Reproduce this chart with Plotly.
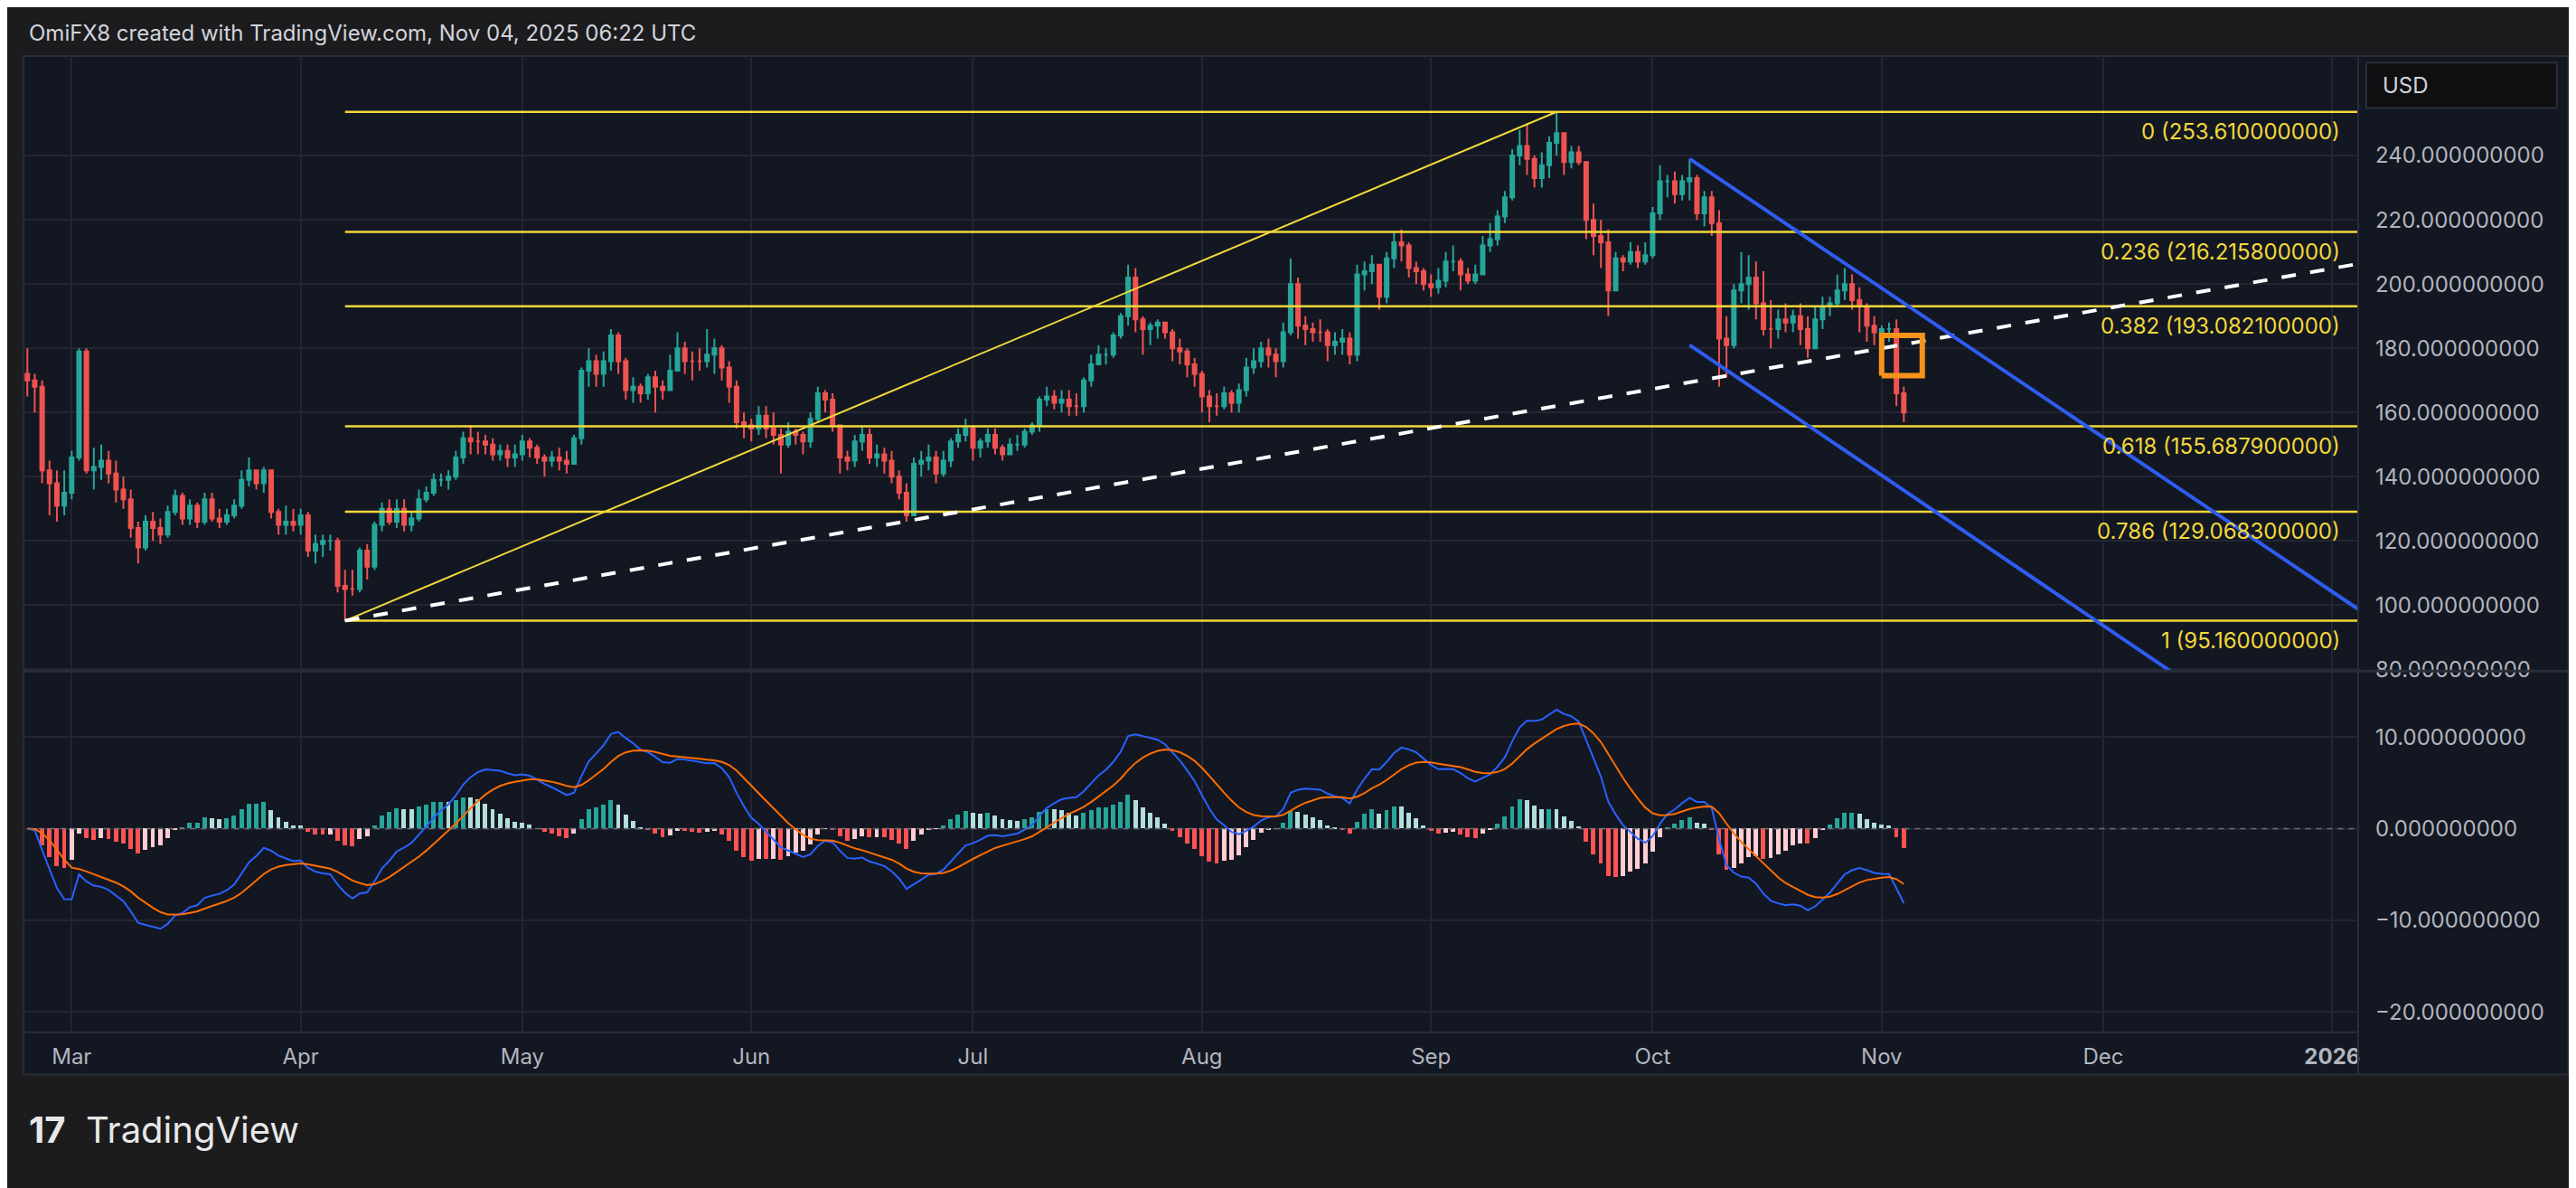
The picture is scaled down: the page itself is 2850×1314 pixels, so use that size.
import pandas as pd
import numpy as np
import plotly.graph_objects as go

# ---------------- DATA (daily, 2025-02-23 .. 2025-11-04) ----------------
close_feb = [170,168,142,138,131,135]
high_feb  = [180,172,170,145,142,142]
low_feb   = [165,160,138,128,126,128]
close_mar = [146,179,142,143,145,141,136,133,124,118,126,124,122,129,134,127,131,126,133,127,126,128,131,139,142,138,142,129,125,126,125]
high_mar  = [148,180,180,149,150,148,145,140,136,126,128,129,127,131,136,135,133,132,135,135,130,130,133,142,146,142,143,142,130,131,130]
low_mar   = [133,145,141,136,139,138,132,130,121,113,117,120,119,121,128,125,125,124,125,126,124,125,127,130,137,136,135,127,122,122,123]
close_apr = [128,117,119,120,120,106,105,105,117,112,125,130,126,130,125,127,133,135,139,139,140,146,152,151,151,150,147,148,146,147]
high_apr  = [130,129,122,122,122,121,111,111,118,119,126,132,133,133,133,129,136,137,141,141,142,148,154,156,154,153,152,150,150,150]
low_apr   = [122,115,113,115,117,104,95.16,103,104,108,111,123,125,124,123,123,126,132,134,137,136,139,144,147,147,147,145,145,143,143]
close_may = [151,149,146,145,146,145,144,152,173,176,172,176,184,176,167,168,166,171,168,167,173,180,176,176,176,178,180,174,168,157,156]
high_may  = [153,152,150,147,148,149,148,153,174,180,178,179,186,185,177,171,169,172,173,170,178,185,182,179,180,186,183,181,176,170,160]
low_may   = [145,146,144,140,143,142,141,144,150,168,168,168,173,172,164,163,163,164,160,164,167,173,172,170,173,174,172,170,163,155,152]
close_jun = [155,159,155,153,150,154,153,151,158,166,164,156,146,145,151,153,146,147,145,140,135,128,144,145,146,141,145,151,153,155]
high_jun  = [158,162,162,160,155,157,155,154,160,168,167,166,156,148,153,156,155,150,149,148,142,138,146,148,150,148,148,152,155,158]
low_jun   = [151,153,152,150,141,149,150,147,149,157,160,154,141,142,143,148,144,143,141,138,133,126,128,140,142,138,140,143,149,151]
close_jul = [149,151,153,149,147,150,150,154,156,164,165,163,164,162,162,170,175,178,178,184,190,202,189,186,187,188,185,180,179,175,172]
high_jul  = [156,152,155,155,150,152,153,155,157,165,168,167,167,167,166,171,178,181,180,185,191,206,205,190,188,189,188,186,183,180,177]
low_jul   = [145,146,149,147,145,147,148,149,153,154,162,161,160,159,159,160,168,175,175,177,183,187,185,178,181,183,183,176,175,171,168]
close_aug = [165,162,162,166,163,167,174,176,180,178,176,185,200,187,186,185,185,181,182,183,178,203,204,206,196,208,213,212,205,204,200]
high_aug  = [173,167,166,168,167,169,177,180,182,183,180,188,208,202,190,188,189,186,185,186,185,206,207,209,205,210,216,217,213,207,205]
low_aug   = [160,157,159,161,160,160,165,172,174,174,171,174,184,183,181,182,182,176,178,178,175,176,198,200,192,194,205,207,202,200,198]
close_sep = [199,201,207,207,203,201,203,212,214,221,227,240,243,239,233,237,244,247,238,241,238,220,215,213,198,208,207,210,207,209]
high_sep  = [203,205,210,212,208,205,206,215,219,223,229,242,248,250,240,241,246,253.61,245,243,243,238,225,220,217,210,209,213,212,213]
low_sep   = [196,197,199,204,198,200,200,203,210,212,219,226,237,234,230,230,233,240,234,236,237,214,209,205,190,198,204,206,205,206]
close_oct = [222,232,232,228,232,233,222,227,219,183,181,198,200,202,194,186,186,189,188,190,186,180,189,193,194,198,200,195,193,187,185]
high_oct  = [224,237,234,235,234,239,234,229,229,223,190,200,210,209,207,204,195,192,194,192,194,190,193,196,196,203,205,203,199,194,190]
low_oct   = [208,220,227,225,226,226,220,218,215,168,171,180,194,192,189,184,180,183,185,185,181,177,180,186,190,193,195,192,185,182,181]
close_nov = [186,186,166,160]
high_nov  = [187,188,189,168]
low_nov   = [183,182,162,157]

fib_ratios = ["0", "0.236", "0.382", "0.618", "0.786", "1"]
fib_prices = [253.61, 216.2158, 193.0821, 155.6879, 129.0683, 95.16]
fib_start = "2025-04-07"

swing_dates = ["2025-04-07", "2025-09-18"]
swing_prices = [95.16, 253.61]
trend_dates = ["2025-04-07", "2026-01-05"]
trend_prices = [95.16, 206.5]
chan_up_dates = ["2025-10-06", "2026-01-05"]
chan_up_prices = [239.0, 98.0]
chan_lo_dates = ["2025-10-06", "2025-12-20"]
chan_lo_prices = [181.0, 64.0]
box_dates = ["2025-11-01", "2025-11-06 12:00"]
box_prices = [171.5, 184.0]

month_ticks = ["2025-03-01","2025-04-01","2025-05-01","2025-06-01","2025-07-01","2025-08-01",
               "2025-09-01","2025-10-01","2025-11-01","2025-12-01","2026-01-01"]
month_labels = ["Mar","Apr","May","Jun","Jul","Aug","Sep","Oct","Nov","Dec","<b>2026</b>"]
price_ticks = [80,100,120,140,160,180,200,220,240]
macd_ticks = [10,0,-10,-20]

# ---------------- build ----------------
closes = close_feb+close_mar+close_apr+close_may+close_jun+close_jul+close_aug+close_sep+close_oct+close_nov
highs = high_feb+high_mar+high_apr+high_may+high_jun+high_jul+high_aug+high_sep+high_oct+high_nov
lows = low_feb+low_mar+low_apr+low_may+low_jun+low_jul+low_aug+low_sep+low_oct+low_nov
dates = pd.date_range("2025-02-23", "2025-11-04", freq="D")
assert len(closes) == len(dates) == len(highs) == len(lows), (len(closes), len(dates), len(highs), len(lows))
closes = np.array(closes, float)
opens = np.concatenate([[172.0], closes[:-1]])
highs = np.maximum.reduce([np.array(highs, float), opens, closes])
lows = np.minimum.reduce([np.array(lows, float), opens, closes])

s = pd.Series(closes)
macd = s.ewm(span=12, adjust=False).mean() - s.ewm(span=26, adjust=False).mean()
sig = macd.ewm(span=9, adjust=False).mean()
hist = macd - sig
hcol = []
prev = 0
for h in hist:
    if h >= 0:
        hcol.append("#26a69a" if h >= prev else "#b2dfdb")
    else:
        hcol.append("#ff5252" if h <= prev else "#ffcdd2")
    prev = h

W, H = 1568.0, 723.0
def px(x): return x / W
def py(y): return 1 - y / H
S = 2850 / 1568

BG = "#131722"
GRID = "#232632"
TXT = "#b2b5be"
YEL = "#f2d83a"

fig = go.Figure()
fig.add_trace(go.Candlestick(x=dates, open=opens, high=highs, low=lows, close=closes,
    increasing=dict(line=dict(color="#26a69a", width=2), fillcolor="#26a69a"),
    decreasing=dict(line=dict(color="#ef5350", width=2), fillcolor="#ef5350"),
    whiskerwidth=0, xaxis="x", yaxis="y", showlegend=False, hoverinfo="skip"))

for fp in fib_prices:
    fig.add_trace(go.Scatter(x=[fib_start, "2026-01-10"], y=[fp, fp], mode="lines",
        line=dict(color=YEL, width=2.5), xaxis="x", yaxis="y", showlegend=False, hoverinfo="skip"))
fig.add_trace(go.Scatter(x=swing_dates, y=swing_prices, mode="lines", line=dict(color=YEL, width=2),
    xaxis="x", yaxis="y", showlegend=False))
fig.add_trace(go.Scatter(x=trend_dates, y=trend_prices, mode="lines",
    line=dict(color="#ffffff", width=4, dash="16px,16px"), xaxis="x", yaxis="y", showlegend=False))
fig.add_trace(go.Scatter(x=chan_up_dates, y=chan_up_prices, mode="lines", line=dict(color="#2f5cf0", width=4),
    xaxis="x", yaxis="y", showlegend=False))
fig.add_trace(go.Scatter(x=chan_lo_dates, y=chan_lo_prices, mode="lines", line=dict(color="#2f5cf0", width=4),
    xaxis="x", yaxis="y", showlegend=False))
fig.add_trace(go.Scatter(x=[box_dates[0], box_dates[1], box_dates[1], box_dates[0], box_dates[0]],
    y=[box_prices[0], box_prices[0], box_prices[1], box_prices[1], box_prices[0]], mode="lines",
    line=dict(color="#f7931a", width=6), xaxis="x", yaxis="y", showlegend=False))

fig.add_trace(go.Bar(x=dates, y=hist, marker=dict(color=hcol, line=dict(width=0)), width=86400000*0.6,
    xaxis="x2", yaxis="y2", showlegend=False))
fig.add_trace(go.Scatter(x=dates, y=macd, mode="lines", line=dict(color="#2962ff", width=2),
    xaxis="x2", yaxis="y2", showlegend=False))
fig.add_trace(go.Scatter(x=dates, y=sig, mode="lines", line=dict(color="#ff6d00", width=2),
    xaxis="x2", yaxis="y2", showlegend=False))
fig.add_trace(go.Scatter(x=["2025-02-01", "2026-01-10"], y=[0, 0], mode="lines",
    line=dict(color="#6a6d78", width=1.5, dash="6px,6px"), xaxis="x2", yaxis="y2", showlegend=False))

xr = ["2025-02-22 12:00", "2026-01-04 12:00"]
xdom = [px(10), px(1432)]
fig.update_layout(
    width=2850, height=1314, margin=dict(l=0, r=0, t=0, b=0),
    paper_bgcolor="#1c1c1e", plot_bgcolor=BG, bargap=0,
    font=dict(family="Inter, Roboto, sans-serif", color=TXT, size=24),
    xaxis=dict(domain=xdom, anchor="y", range=xr, showticklabels=False, tickvals=month_ticks,
               showgrid=True, gridcolor=GRID, gridwidth=2, zeroline=False, rangeslider=dict(visible=False), fixedrange=True),
    xaxis2=dict(domain=xdom, anchor="y2", range=xr, tickvals=month_ticks, ticktext=month_labels,
                showgrid=True, gridcolor=GRID, gridwidth=2, zeroline=False, ticks="", ticklabelstandoff=10,
                tickfont=dict(size=24, color=TXT)),
    yaxis=dict(domain=[py(408), py(30)], anchor="x", side="right", range=[79.5, 271], tickvals=price_ticks,
               ticktext=[f"{v:.9f}" for v in price_ticks], showgrid=True, gridcolor=GRID, gridwidth=2,
               zeroline=False, ticklabelstandoff=18, tickfont=dict(size=24, color=TXT)),
    yaxis2=dict(domain=[py(630), py(408)], anchor="x2", side="right", range=[-22.2, 17.2], tickvals=macd_ticks,
                ticktext=[("−" if v < 0 else "") + f"{abs(v):.9f}" for v in macd_ticks], showgrid=True,
                gridcolor=GRID, gridwidth=2, zeroline=False, ticklabelstandoff=18, tickfont=dict(size=24, color=TXT)),
)

shapes = [
    dict(type="rect", xref="paper", yref="paper", x0=px(10), x1=px(1560), y0=py(656), y1=py(30),
         fillcolor=BG, line=dict(color="#2a2e39", width=2), layer="below"),
    dict(type="line", xref="paper", yref="paper", x0=px(10), x1=px(1560), y0=py(408), y1=py(408),
         line=dict(color="#2a2e39", width=3)),
    dict(type="line", xref="paper", yref="paper", x0=px(1432), x1=px(1432), y0=py(656), y1=py(30),
         line=dict(color="#2a2e39", width=2)),
    dict(type="line", xref="paper", yref="paper", x0=px(10), x1=px(1432), y0=py(630), y1=py(630),
         line=dict(color="#2a2e39", width=2)),
    dict(type="rect", xref="paper", yref="paper", x0=px(1437), x1=px(1553), y0=py(62), y1=py(34),
         fillcolor="#0f0f12", line=dict(color="#2a2e39", width=2)),
]
fig.update_layout(shapes=shapes)

ann = [
    dict(text="OmiFX8 created with TradingView.com, Nov 04, 2025 06:22 UTC", xref="paper", yref="paper",
         x=px(12), y=py(16), xanchor="left", yanchor="middle", showarrow=False, font=dict(size=24, color="#d1d4dc")),
    dict(text="USD", xref="paper", yref="paper", x=px(1446), y=py(48), xanchor="left", yanchor="middle",
         showarrow=False, font=dict(size=24, color="#d1d4dc")),
    dict(text="<b>17</b>  TradingView", xref="paper", yref="paper", x=px(12), y=py(690), xanchor="left",
         yanchor="middle", showarrow=False, font=dict(size=40, color="#e8e8e8")),
]
for r, fp in zip(fib_ratios, fib_prices):
    ann.append(dict(text=f"{r} ({fp:.9f})", xref="paper", yref="y", x=px(1422), y=fp, xanchor="right",
                    yanchor="middle", yshift=-12 * S, showarrow=False, font=dict(size=24, color=YEL)))
fig.update_layout(annotations=ann)

fig.write_html("out.html")
